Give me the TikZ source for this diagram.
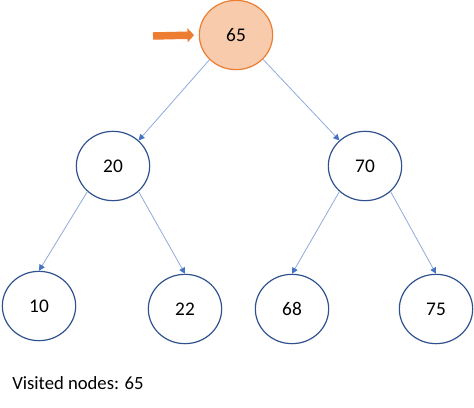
\documentclass[tikz,border=0pt]{standalone}
\usepackage{fontspec}
\setmainfont{Carlito}
\usetikzlibrary{shapes.geometric,arrows.meta}
\definecolor{nodeblue}{HTML}{2F528F}
\definecolor{edgeblue}{HTML}{8FAADC}
\definecolor{tipblue}{HTML}{4472C4}
\definecolor{visitfill}{HTML}{F8CBAD}
\definecolor{visitline}{HTML}{ED7D31}

\begin{document}
\begin{tikzpicture}[x=0.75pt, y=-0.75pt,
    font=\fontsize{14.5}{17}\selectfont,
    key/.style={ellipse, draw=nodeblue, line width=0.9pt, inner sep=0pt,
      minimum width=55pt, minimum height=52pt},
    visited/.style={key, draw=visitline, fill=visitfill},
    link/.style={draw=edgeblue, line width=0.6pt,
      -{Triangle[length=4.5pt, width=4.5pt, color=tipblue]}}]
  \useasboundingbox (0,0) rectangle (474,407);
  % tree
  \node[visited] (n65) at (236,35) {65};
  \node[key] (n20) at (113,166) {20};
  \node[key] (n70) at (365,166) {70};
  \node[key] (n10) at (39,306) {10};
  \node[key] (n22) at (185,309) {22};
  \node[key] (n68) at (292,309) {68};
  \node[key] (n75) at (436,309) {75};
  \draw[link] (n65.223) -- (n20.45);
  \draw[link] (n65.318) -- (n70.135);
  \draw[link] (n20.225) -- (n10.north);
  \draw[link] (n20.315) -- (n22.north);
  \draw[link] (n70.225) -- (n68.north);
  \draw[link] (n70.315) -- (n75.north);
  % pointer to current node
  \coordinate (pointer) at (153,36);
  \draw[visitline, line width=5.6pt, shorten >=3.5pt,
    -{Triangle[length=5pt, width=10.5pt]}] (pointer) -- (n65.west);
  \node[anchor=west, inner sep=0pt, font=\fontsize{14}{17}\selectfont]
    (visitlist) at (12,383) {Visited nodes: 65};
\end{tikzpicture}
\end{document}
